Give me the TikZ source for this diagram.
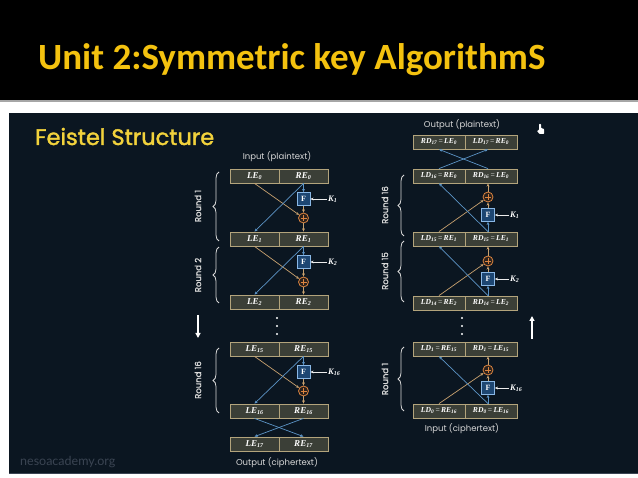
\documentclass[tikz,border=0pt]{standalone}
\usepackage{fontspec}
\setmainfont{Liberation Serif}
\newfontfamily\titlefont{Carlito}
\newfontfamily\popfont{Poppins}
\newfontfamily\popfontm[FakeBold=1.6]{Poppins}
\newfontfamily\latofont{Lato}
\usetikzlibrary{decorations.pathreplacing,arrows.meta}
\definecolor{panel}{HTML}{0B1621}
\definecolor{gold}{HTML}{F4C20F}
\definecolor{ftitle}{HTML}{F2D23C}
\definecolor{boxfill}{HTML}{3B3F37}
\definecolor{boxline}{HTML}{B3A47C}
\definecolor{bline}{HTML}{5C94C6}
\definecolor{tline}{HTML}{C9A270}
\definecolor{ffill}{HTML}{1D4672}
\definecolor{fline}{HTML}{8AB8E6}
\definecolor{xline}{HTML}{DB8440}
\definecolor{xfill}{HTML}{2A211C}
\definecolor{lbl}{HTML}{D8D8D8}
\definecolor{wmark}{HTML}{3A4452}
\newcommand\fsub[2]{{\bfseries\itshape #1\textsubscript{#2}}}
\begin{document}
\begin{tikzpicture}[x=1pt,y=-1pt,
  half/.style={draw=boxline,fill=boxfill,line width=0.8pt,minimum height=14pt,inner sep=0pt,text=white,font=\fontsize{9}{9}\selectfont},
  lhalf/.style={half,minimum width=49pt},
  rhalf/.style={half,minimum width=52pt,font=\fontsize{7.6}{8}\selectfont},
  fbox/.style={draw=fline,fill=ffill,line width=0.7pt,minimum size=13pt,inner sep=0pt,text=white,font=\bfseries\fontsize{8}{9}\selectfont},
  xorc/.style={circle,draw=xline,fill=xfill,line width=0.8pt,minimum size=10pt,inner sep=0pt,
    path picture={\draw[xline,line width=0.6pt] ([yshift=-2pt]path picture bounding box.north) -- ([yshift=2pt]path picture bounding box.south) ([xshift=2pt]path picture bounding box.west) -- ([xshift=-2pt]path picture bounding box.east);}},
  klab/.style={text=white,font=\fontsize{8.5}{9}\selectfont,anchor=west,inner sep=1pt},
  lab/.style={text=lbl,font=\popfont\fontsize{8.5}{9}\selectfont,inner sep=0pt},
  rlab/.style={text=lbl,font=\popfontm\fontsize{8.5}{9}\selectfont,rotate=90,inner sep=0pt},
  tip/.style={-{Stealth[length=3.2pt,width=2.8pt]}},
  bl/.style={draw=bline,line width=0.7pt,tip},
  tl/.style={draw=tline,line width=0.7pt,tip},
  wl/.style={draw=white!85!gray,line width=0.7pt,tip},
  brc/.style={draw=lbl,line width=0.8pt,decorate,decoration={brace,amplitude=6pt}},
  bigarrow/.style={draw=white,line width=1.3pt,-{Triangle[length=5pt,width=5pt]}},
  dot/.style={circle,fill=white,inner sep=0pt,minimum size=2.2pt}
]
\useasboundingbox (0,0) rectangle (638,478);
% backgrounds
\fill[black] (0,0) rectangle (638,100);
\fill[gray!70] (0,100) rectangle (638,102);
\fill[white] (0,102) rectangle (638,478);
\fill[panel] (9,113) rectangle (638,473);
\fill[wmark] (9,473) rectangle (638,474);
% titles
\node[anchor=base west,inner sep=0pt,text=gold,font=\titlefont\bfseries\fontsize{37}{40}\selectfont] (title) at (38,70) {Unit 2:Symmetric key AlgorithmS};
\node[anchor=base west,inner sep=0pt,text=ftitle,font=\popfontm\fontsize{22.5}{24}\selectfont] (ftitle) at (35,145) {Feistel Structure};
\node[anchor=base west,inner sep=0pt,text=wmark,font=\latofont\fontsize{12.5}{14}\selectfont] (wm) at (20,466) {nesoacademy.org};

% ================= LEFT (encryption) =================
\node[lab] (inp) at (277,157) {Input (plaintext)};
\node[lhalf] (L0a) at (254.5,176) {\fsub{LE}{0}};
\node[lhalf] (L0b) at (303.5,176) {\fsub{RE}{0}};
\node[fbox] (F1) at (303.5,199) {F};
\node[xorc] (X1) at (303.5,218) {};
\node[klab] (K1) at (327,199) {\fsub{K}{1}};
\node[lhalf] (L1a) at (254.5,239) {\fsub{LE}{1}};
\node[lhalf] (L1b) at (303.5,239) {\fsub{RE}{1}};
\node[fbox] (F2) at (303.5,262) {F};
\node[xorc] (X2) at (303.5,282) {};
\node[klab] (K2) at (327,262) {\fsub{K}{2}};
\node[lhalf] (L2a) at (254.5,302) {\fsub{LE}{2}};
\node[lhalf] (L2b) at (303.5,302) {\fsub{RE}{2}};
\node[dot] (ld1) at (277,318) {};
\node[dot] (ld2) at (277,326) {};
\node[dot] (ld3) at (277,334) {};
\node[lhalf] (L15a) at (254.5,349) {\fsub{LE}{15}};
\node[lhalf] (L15b) at (303.5,349) {\fsub{RE}{15}};
\node[fbox] (F16) at (303.5,372) {F};
\node[xorc] (X16) at (303.5,391) {};
\node[klab] (K16) at (327,372) {\fsub{K}{16}};
\node[lhalf] (L16a) at (254.5,411) {\fsub{LE}{16}};
\node[lhalf] (L16b) at (303.5,411) {\fsub{RE}{16}};
\node[lhalf] (L17a) at (254.5,444) {\fsub{LE}{17}};
\node[lhalf] (L17b) at (303.5,444) {\fsub{RE}{17}};
\node[lab] (outc) at (277,463) {Output (ciphertext)};

% round 1
\draw[tl] (L0a.south) -- (X1);
\draw[bl] (L0b.south) -- (F1.north);
\draw[bl] (L0b.south) -- (L1a.north);
\draw[tl] (F1.south) -- (X1.north);
\draw[tl] (X1.south) -- (L1b.north);
\draw[wl] (K1.west) -- (F1.east);
% round 2
\draw[tl] (L1a.south) -- (X2);
\draw[bl] (L1b.south) -- (F2.north);
\draw[bl] (L1b.south) -- (L2a.north);
\draw[tl] (F2.south) -- (X2.north);
\draw[tl] (X2.south) -- (L2b.north);
\draw[wl] (K2.west) -- (F2.east);
% round 16
\draw[tl] (L15a.south) -- (X16);
\draw[bl] (L15b.south) -- (F16.north);
\draw[bl] (L15b.south) -- (L16a.north);
\draw[tl] (F16.south) -- (X16.north);
\draw[tl] (X16.south) -- (L16b.north);
\draw[wl] (K16.west) -- (F16.east);
% final swap
\draw[bl] (L16a.south) -- (L17b.north);
\draw[bl] (L16b.south) -- (L17a.north);

% braces and round labels
\draw[brc] (219,241) -- (219,172);
\draw[brc] (219,303) -- (219,247);
\draw[brc] (219,413) -- (219,348);
\node[rlab] (lr1) at (198,206) {Round 1};
\node[rlab] (lr2) at (198,275) {Round 2};
\node[rlab] (lr16) at (198,380) {Round 16};
\coordinate (la1) at (198,315);
\coordinate (la2) at (198,338);
\draw[bigarrow] (la1) -- (la2);

% ================= RIGHT (decryption) =================
\node[lab] (outp) at (462,125) {Output (plaintext)};
\node[rhalf] (R17a) at (439,142) {\fsub{RD}{17}\,=\,\fsub{LE}{0}};
\node[rhalf] (R17b) at (491,142) {\fsub{LD}{17}\,=\,\fsub{RE}{0}};
\node[rhalf] (R16a) at (439,176) {\fsub{LD}{16}\,=\,\fsub{RE}{0}};
\node[rhalf] (R16b) at (491,176) {\fsub{RD}{16}\,=\,\fsub{LE}{0}};
\node[xorc] (XA) at (488,197) {};
\node[fbox] (FA) at (488,215) {F};
\node[klab] (KA) at (509,215) {\fsub{K}{1}};
\node[rhalf] (R15a) at (439,239) {\fsub{LD}{15}\,=\,\fsub{RE}{1}};
\node[rhalf] (R15b) at (491,239) {\fsub{RD}{15}\,=\,\fsub{LE}{1}};
\node[xorc] (XB) at (488,261) {};
\node[fbox] (FB) at (488,279) {F};
\node[klab] (KB) at (509,279) {\fsub{K}{2}};
\node[rhalf] (R14a) at (439,303) {\fsub{LD}{14}\,=\,\fsub{RE}{2}};
\node[rhalf] (R14b) at (491,303) {\fsub{RD}{14}\,=\,\fsub{LE}{2}};
\node[dot] (rd1) at (462,318) {};
\node[dot] (rd2) at (462,326) {};
\node[dot] (rd3) at (462,334) {};
\node[rhalf] (R1a) at (439,349) {\fsub{LD}{1}\,=\,\fsub{RE}{15}};
\node[rhalf] (R1b) at (491,349) {\fsub{RD}{1}\,=\,\fsub{LE}{15}};
\node[xorc] (XC) at (488,370) {};
\node[fbox] (FC) at (488,388) {F};
\node[klab] (KC) at (509,388) {\fsub{K}{16}};
\node[rhalf] (R0a) at (439,411) {\fsub{LD}{0}\,=\,\fsub{RE}{16}};
\node[rhalf] (R0b) at (491,411) {\fsub{RD}{0}\,=\,\fsub{LE}{16}};
\node[lab] (inc) at (462,429) {Input (ciphertext)};

% top swap
\draw[bl] (R16a.north) -- (XA |- R17b.south);
\draw[bl] (XA |- R16b.north) -- (R17a.south);
% round 16 (upper)
\draw[tl] (R15a.north) -- (XA);
\draw[bl] (FA |- R15b.north) -- (FA.south);
\draw[bl] (FA |- R15b.north) -- (R16a.south);
\draw[tl] (FA.north) -- (XA.south);
\draw[tl] (XA.north) -- (XA |- R16b.south);
\draw[wl] (KA.west) -- (FA.east);
% round 15
\draw[tl] (R14a.north) -- (XB);
\draw[bl] (FB |- R14b.north) -- (FB.south);
\draw[bl] (FB |- R14b.north) -- (R15a.south);
\draw[tl] (FB.north) -- (XB.south);
\draw[tl] (XB.north) -- (XB |- R15b.south);
\draw[wl] (KB.west) -- (FB.east);
% round 1
\draw[tl] (R0a.north) -- (XC);
\draw[bl] (FC |- R0b.north) -- (FC.south);
\draw[bl] (FC |- R0b.north) -- (R1a.south);
\draw[tl] (FC.north) -- (XC.south);
\draw[tl] (XC.north) -- (XC |- R1b.south);
\draw[wl] (KC.west) -- (FC.east);

\draw[brc] (404,236) -- (404,175);
\draw[brc] (404,302) -- (404,241);
\draw[brc] (404,411) -- (404,347);
\node[rlab] (rr16) at (385,205) {Round 16};
\node[rlab] (rr15) at (385,271) {Round 15};
\node[rlab] (rr1) at (385,379) {Round 1};
\coordinate (ra1) at (532,339);
\coordinate (ra2) at (532,316);
\draw[bigarrow] (ra1) -- (ra2);

% mouse pointer
\fill[white,rounded corners=0.6pt] (539,124) -- (541,124) -- (541,128) -- (544,129) -- (544,134) -- (539.5,134) -- (537,131) -- (539,130) -- cycle;
\end{tikzpicture}
\end{document}
